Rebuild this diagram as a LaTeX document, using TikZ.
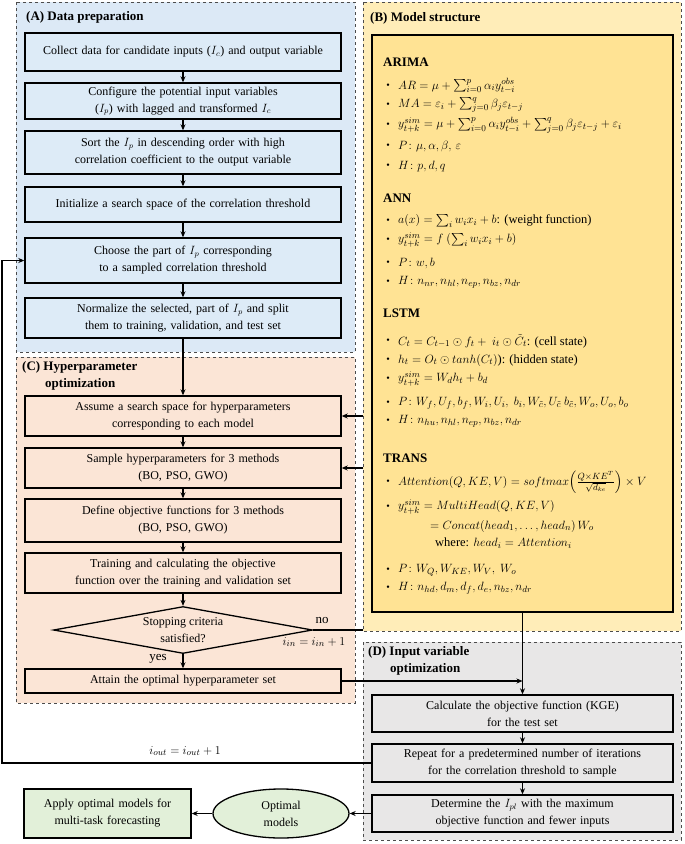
\documentclass[tikz,border=0pt]{standalone}
\usepackage{fontspec}
\setmainfont{Liberation Serif}
\usepackage{amsmath,amssymb}
\usetikzlibrary{arrows.meta,shapes.geometric}
\definecolor{pA}{HTML}{DCE9F6}
\definecolor{bA}{HTML}{DDEBF7}
\definecolor{pB}{HTML}{FFEDB8}
\definecolor{iB}{HTML}{FFE394}
\definecolor{pC}{HTML}{FBE5D6}
\definecolor{pD}{HTML}{E8E7E7}
\definecolor{gE}{HTML}{E2F0D9}
\tikzset{
 panel/.style={draw=black!70, dashed, line width=0.6pt},
 box/.style={draw, line width=1.4pt, align=center, inner sep=0pt, text width=#1,
   font=\fontsize{12}{17}\selectfont},
 box/.default=316pt,
 ttl/.style={anchor=west, font=\fontsize{13}{15}\selectfont\bfseries, inner sep=0pt},
 arr/.style={line width=1.3pt, -{Stealth[length=6pt,width=5pt]}},
 ln/.style={line width=1.3pt},
 lab/.style={font=\fontsize{13}{14}\selectfont, inner sep=0pt},
 bul/.style={anchor=center, inner sep=0pt, font=\fontsize{10}{12}\selectfont},
 btxt/.style={anchor=west, inner sep=0pt, font=\fontsize{12.5}{14}\selectfont},
 bh/.style={anchor=west, inner sep=0pt, font=\fontsize{13}{15}\selectfont\bfseries},
}
\newcommand\bitem[3]{\node[bul] (#1b) at (388,#2) {\textbullet}; \node[btxt] (#1) at (398,#2) {#3};}
\begin{document}
\hyphenpenalty=10000 \exhyphenpenalty=10000
\begin{tikzpicture}[x=1pt,y=-1pt]
\useasboundingbox (0,0) rectangle (685,844);
% panels
\fill[pA] (16,2) rectangle (355,352); \draw[panel] (16,2) rectangle (355,352);
\fill[pB] (363,2) rectangle (681,631); \draw[panel] (363,2) rectangle (681,631);
\fill[pC] (16,357) rectangle (355,703); \draw[panel] (16,357) rectangle (355,703);
\fill[pD] (363,642) rectangle (681,840); \draw[panel] (363,642) rectangle (681,840);
\coordinate (bl) at (363,0);
\node[ttl] (tA) at (26,17) {(A) Data preparation};
\node[ttl] (tB) at (370,18) {(B) Model structure};
\node[ttl] (tC1) at (22,367) {(C) Hyperparameter};
\node[ttl] (tC2) at (45,384) {optimization};
\node[ttl] (tD1) at (368,652) {(D) Input variable};
\node[ttl] (tD2) at (390,669) {optimization};
% A boxes
\node[box, fill=bA, minimum width=316pt, minimum height=38pt] (a1) at (183,52) {Collect data for candidate inputs ($I_c$) and output variable};
\node[box, fill=bA, minimum width=316pt, minimum height=36pt] (a2) at (183,101) {Configure the potential input variables ($I_p$) with lagged and transformed $I_c$};
\node[box, fill=bA, minimum width=316pt, minimum height=43pt] (a3) at (183,152.5) {Sort the $I_p$ in descending order with high correlation coefficient to the output variable};
\node[box, fill=bA, minimum width=316pt, minimum height=35pt] (a4) at (183,204.5) {Initialize a search space of the correlation threshold};
\node[box, fill=bA, minimum width=316pt, minimum height=45pt] (a5) at (183,260.5) {Choose the part of $I_p$ corresponding to a sampled correlation threshold};
\node[box, fill=bA, minimum width=316pt, minimum height=40pt] (a6) at (183,318) {Normalize the selected, part of $I_p$ and split them to training, validation, and test set};
% C boxes
\node[box, fill=pC, minimum width=316pt, minimum height=40pt] (c1) at (183,416) {Assume a search space for hyperparameters corresponding to each model};
\node[box, fill=pC, minimum width=316pt, minimum height=40pt] (c2) at (183,468) {Sample hyperparameters for 3 methods\\(BO, PSO, GWO)};
\node[box, fill=pC, minimum width=316pt, minimum height=43pt] (c3) at (183,520.5) {Define objective functions for 3 methods\\(BO, PSO, GWO)};
\node[box, fill=pC, minimum width=316pt, minimum height=40pt] (c4) at (183,573) {Training and calculating the objective function over the training and validation set};
\node[diamond, draw, line width=1.3pt, fill=pC, aspect=5.5, minimum width=259pt, minimum height=47pt, inner sep=0pt, align=center, font=\fontsize{12}{17}\selectfont] (dm) at (183,630) {Stopping criteria\\satisfied?};
\node[box, fill=pC, minimum width=316pt, minimum height=24pt] (c5) at (183,681) {Attain the optimal hyperparameter set};
% B inner
\node[draw, line width=1.4pt, fill=iB, minimum width=301pt, minimum height=577pt, inner sep=0pt] (bin) at (522.5,323.5) {};
\node[bh] (h1) at (383,62) {ARIMA};
\bitem{r1}{86}{$AR=\mu+\sum_{i=0}^{p}\alpha_i y_{t-i}^{obs}$}
\bitem{r2}{105}{$MA=\varepsilon_i+\sum_{j=0}^{q}\beta_j\varepsilon_{t-j}$}
\bitem{r3}{125}{$y_{t+k}^{sim}=\mu+\sum_{i=0}^{p}\alpha_i y_{t-i}^{obs}+\sum_{j=0}^{q}\beta_j\varepsilon_{t-j}+\varepsilon_i$}
\bitem{r4}{146}{$P\colon \mu,\alpha,\beta,\,\varepsilon$}
\bitem{r5}{166}{$H\colon p,d,q$}
\node[bh] (h2) at (383,198) {ANN};
\bitem{n1}{221}{$a(x)=\sum_i w_i x_i+b$: (weight function)}
\bitem{n2}{240}{$y_{t+k}^{sim}=f\ (\sum_i w_i x_i+b)$}
\bitem{n3}{263}{$P\colon w,b$}
\bitem{n4}{282}{$H\colon n_{nr},n_{hl},n_{ep},n_{bz},n_{dr}$}
\node[bh] (h3) at (383,313) {LSTM};
\bitem{l1}{341}{$C_t=C_{t-1}\odot f_t+\ i_t\odot\tilde{C}_t$: (cell state)}
\bitem{l2}{360}{$h_t=O_t\odot tanh(C_t)$): (hidden state)}
\bitem{l3}{379}{$y_{t+k}^{sim}=W_d h_t+b_d$}
\bitem{l4}{403}{$P\colon W_f,U_f,b_f,W_i,U_i,\ b_i,W_{\tilde c},U_{\tilde c}\ b_{\tilde c},W_o,U_o,b_o$}
\bitem{l5}{421}{$H\colon n_{hu},n_{hl},n_{ep},n_{bz},n_{dr}$}
\node[bh] (h4) at (383,458) {TRANS};
\bitem{t1}{482}{$Attention(Q,KE,V)=softmax\Bigl(\frac{Q\times KE^T}{\sqrt{d_{ke}}}\Bigr)\times V$}
\bitem{t2}{507}{$y_{t+k}^{sim}=MultiHead(Q,KE,V)$}
\node[btxt] (t2b) at (430,526) {$=Concat(head_1,\dots,head_n)\,W_o$};
\node[btxt] (t2c) at (435,543) {where: $head_i=Attention_i$};
\bitem{t3}{570}{$P\colon W_Q,W_{KE},W_V,\ W_o$}
\bitem{t4}{588}{$H\colon n_{hd},d_m,d_f,d_e,n_{bz},n_{dr}$}
% D boxes
\node[box=296pt, fill=pD, minimum width=301pt, minimum height=37pt] (d1) at (522.5,713.5) {Calculate the objective function (KGE)\\for the test set};
\node[box=296pt, fill=pD, minimum width=301pt, minimum height=38pt] (d2) at (522.5,763) {Repeat for a predetermined number of iterations for the correlation threshold to sample};
\node[box=296pt, fill=pD, minimum width=301pt, minimum height=37pt] (d3) at (522.5,813.5) {Determine the $I_{pl}$ with the maximum objective function and fewer inputs};
\node[ellipse, draw, line width=1.3pt, fill=gE, minimum width=136pt, minimum height=49pt, inner sep=0pt, align=center, font=\fontsize{12}{17}\selectfont] (om) at (281,813.5) {Optimal\\models};
\node[box=162pt, fill=gE, minimum width=167pt, minimum height=49pt] (ap) at (107.5,813.5) {Apply optimal models for multi-task forecasting};
% connectors
\foreach \u/\v in {a1/a2,a2/a3,a3/a4,a4/a5,a5/a6,a6/c1,c1/c2,c2/c3,c3/c4,c4/dm,dm/c5,d1/d2,d2/d3}
  \draw[arr] (\u.south) -- (\v.north);
\draw[arr] (c1.east -| bl) -- (c1.east);
\draw[arr] (c2.east -| bl) -- (c2.east);
\draw[ln] (dm.east) -- (dm.east -| bl);
\draw[arr] (bin.south) -- (d1.north);
\draw[arr] (c5.east) -- (c5.east -| d1.north);
\draw[arr] (d2.west) -- (2,763) |- (a5.west);
\draw[arr] (d3.west) -- (om.east);
\draw[arr] (om.west) -- (ap.east);
\node[lab] (no) at (322,620) {no};
\node[lab] (iin) at (314,642) {$i_{in}=i_{in}+1$};
\node[lab] (yes) at (158,659) {yes};
\node[lab] (iout) at (185,751) {$i_{out}=i_{out}+1$};
\end{tikzpicture}
\end{document}
